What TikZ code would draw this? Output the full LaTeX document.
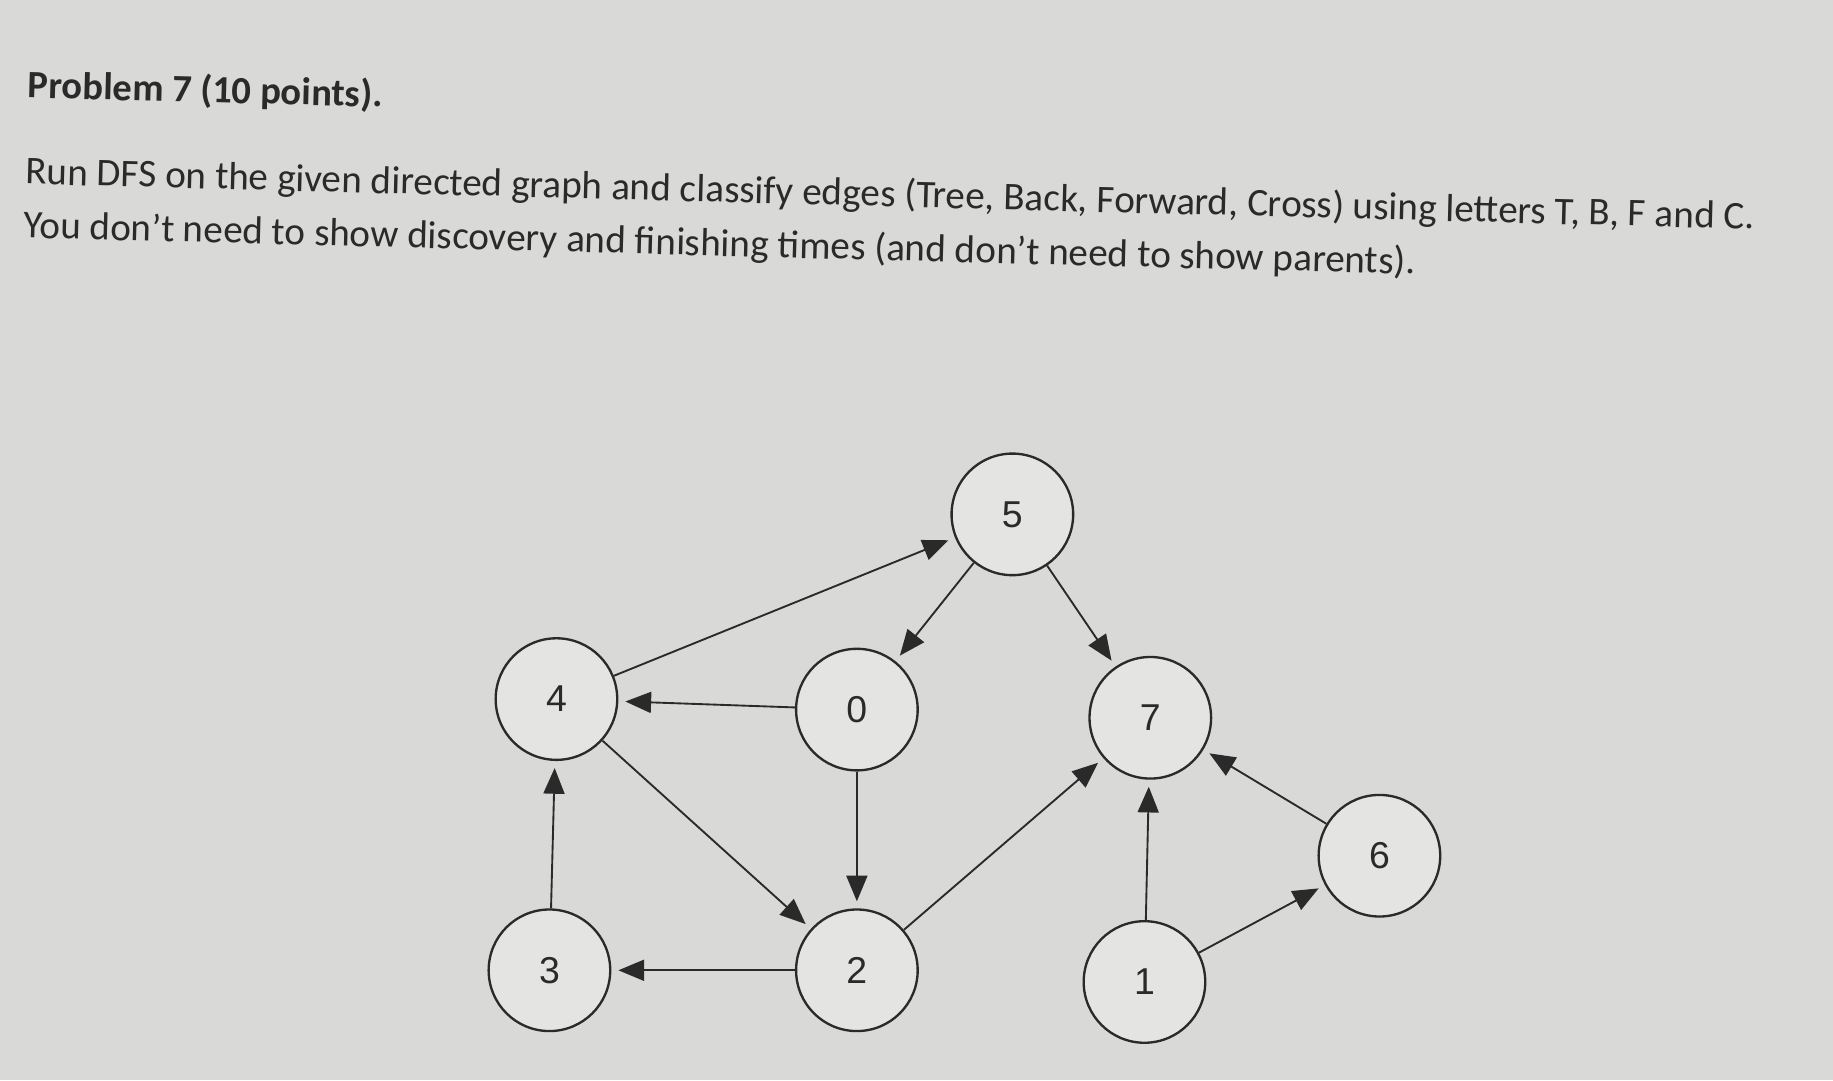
\documentclass[tikz,border=0pt]{standalone}
\usepackage{fontspec}
\setmainfont{Carlito}
\newfontfamily\numfont{Liberation Sans}
\usetikzlibrary{arrows.meta}
\definecolor{bg}{HTML}{D9D9D7}
\definecolor{nodefill}{HTML}{E4E4E2}
\definecolor{ink}{HTML}{2A2A2A}
\begin{document}
\begin{tikzpicture}[x=1pt,y=-1pt,
  vtx/.style={circle,draw=ink,line width=2pt,fill=nodefill,minimum size=104pt,inner sep=0pt,font=\numfont\fontsize{32}{32}\selectfont,text=ink},
  edge/.style={line width=1.6pt,draw=ink,-{Triangle[length=22pt,width=18pt]},shorten >=6pt},
  txt/.style={anchor=west,inner sep=0pt,text=ink,font=\fontsize{33.5}{36}\selectfont,rotate=-1.5}]
\fill[bg] (0,0) rectangle (1568,924);
\useasboundingbox (0,0) rectangle (1568,924);
\node[txt,font=\bfseries\fontsize{33}{36}\selectfont] (t0) at (24,74) {Problem 7 (10 points).};
\node[txt] (t1) at (22,148) {Run DFS on the given directed graph and classify edges (Tree, Back, Forward, Cross) using letters T, B, F and C.};
\node[txt] (t2) at (20,194) {You don’t need to show discovery and finishing times (and don’t need to show parents).};
\node[vtx] (v5) at (866,440) {5};
\node[vtx] (v4) at (476,598) {4};
\node[vtx] (v0) at (733,607) {0};
\node[vtx] (v7) at (984,614) {7};
\node[vtx] (v6) at (1180,732) {6};
\node[vtx] (v3) at (470,830) {3};
\node[vtx] (v2) at (733,830) {2};
\node[vtx] (v1) at (979,840) {1};
\draw[edge] (v4) -- (v5);
\draw[edge] (v5) -- (v0);
\draw[edge] (v5) -- (v7);
\draw[edge] (v0) -- (v4);
\draw[edge] (v0) -- (v2);
\draw[edge] (v4) -- (v2);
\draw[edge] (v2) -- (v3);
\draw[edge] (v3) -- (v4);
\draw[edge] (v2) -- (v7);
\draw[edge] (v1) -- (v7);
\draw[edge] (v1) -- (v6);
\draw[edge] (v6) -- (v7);
\end{tikzpicture}
\end{document}
